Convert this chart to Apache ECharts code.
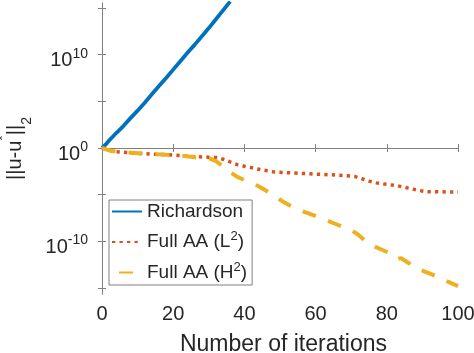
<!DOCTYPE html>
<html>
<head>
<meta charset="utf-8">
<script src="https://cdn.jsdelivr.net/npm/echarts@6/dist/echarts.min.js"></script>
<style>html,body{margin:0;padding:0;background:#fff;}#c{width:474px;height:353px;}</style>
</head>
<body>
<div id="c"></div>
<script>
// Iterations (x) and log10 of ||u-u*||_2 (y)
const richIters = [0, 1, 2, 3, 4, 6, 8, 10, 12, 14, 16, 18, 20, 22, 24, 26, 28, 30, 32, 34, 36];
const richLog10 = [0.0, 0.35, 0.8, 1.2, 1.6, 2.35, 3.2, 4.0, 4.85, 5.75, 6.65, 7.5, 8.4, 9.3, 10.2, 11.05, 11.95, 12.85, 13.8, 14.75, 15.7];

const l2Iters = [0, 2, 4, 8, 12, 17, 22, 26, 30, 32, 34, 36, 38, 40, 43, 45, 48, 52, 56, 60, 64, 68, 71, 73, 75, 77, 80, 83, 86, 89, 91, 95, 100];
const l2Log10 = [0, -0.25, -0.4, -0.52, -0.62, -0.7, -0.8, -0.93, -0.98, -1.02, -1.2, -1.5, -1.78, -1.96, -2.2, -2.35, -2.55, -2.65, -2.72, -2.8, -2.87, -2.95, -3.05, -3.3, -3.55, -3.74, -3.9, -4.05, -4.3, -4.55, -4.68, -4.7, -4.72];

const h2Iters = [0, 2, 4, 8, 12, 17, 22, 26, 30, 32, 34, 36, 38, 41, 44, 48, 51, 55, 58, 62, 66, 70, 72, 75, 78, 81, 82, 83, 84, 86, 89, 93, 97, 100];
const h2Log10 = [0, -0.25, -0.4, -0.5, -0.6, -0.7, -0.8, -1.0, -1.1, -1.4, -2.0, -2.6, -3.1, -3.6, -4.1, -5.0, -5.8, -6.6, -7.0, -7.6, -8.2, -8.8, -9.3, -10.3, -10.8, -11.3, -11.5, -11.9, -11.8, -12.3, -13.0, -13.6, -14.3, -14.8];

const seriesNames = ['Richardson', 'Full AA (L2)', 'Full AA (H2)'];
const legendLabels = {
  'Richardson': '{b|Richardson}',
  'Full AA (L2)': '{b|Full AA (L}{s|2}{b|)}',
  'Full AA (H2)': '{b|Full AA (H}{s|2}{b|)}'
};
const xTicks = [0, 20, 40, 60, 80, 100];
const yTickExps = [-15, -10, -5, 0, 5, 10, 15];
const yLabelExps = [-10, 0, 10];

const zip = (xs, ys) => xs.map((x, i) => [x, ys[i]]);
const txt = '#262626';
const axc = '#808080';
const yMin = -15.65, yMax = 15.54;

const chart = echarts.init(document.getElementById('c'), null, {renderer: 'canvas'});
chart.setOption({
  animation: false,
  backgroundColor: '#fff',
  grid: {left: 102, right: 16, top: 3, bottom: 59, containLabel: false, outerBoundsMode: 'none'},
  xAxis: [{
    type: 'value', min: 0, max: 100, interval: 20,
    name: 'Number of iterations', nameLocation: 'middle', nameGap: 39,
    nameTextStyle: {fontSize: 23, color: txt, fontFamily: 'Liberation Sans', padding: [0, 0, 0, 7]},
    axisLine: {lineStyle: {color: axc, width: 1}},
    axisTick: {inside: true, length: 4, lineStyle: {color: axc}},
    axisLabel: {fontSize: 20, color: txt, margin: 10, fontFamily: 'Liberation Sans'},
    splitLine: {show: false}
  }, {
    type: 'value', min: 0, max: 100, interval: 20, position: 'top',
    axisLine: {show: true, lineStyle: {color: axc, width: 1}},
    axisTick: {show: true, inside: true, length: 4, lineStyle: {color: axc}},
    axisLabel: {show: false}, splitLine: {show: false}
  }],
  yAxis: [{
    type: 'value', min: yMin, max: yMax,
    name: '{b|||u-u}{sup|*}{b|||}{sub|2}', nameLocation: 'middle', nameGap: 68, nameRotate: 90,
    nameTextStyle: {
      color: txt, fontFamily: 'Liberation Sans',
      rich: {
        b: {fontSize: 20, lineHeight: 38, color: txt, fontFamily: 'Liberation Sans'},
        sup: {fontSize: 14, lineHeight: 14, verticalAlign: 'top', color: txt, fontFamily: 'Liberation Sans'},
        sub: {fontSize: 14, lineHeight: 14, verticalAlign: 'bottom', color: txt, fontFamily: 'Liberation Sans'}
      }
    },
    axisLine: {show: true, lineStyle: {color: axc, width: 1}},
    axisTick: {show: true, inside: true, length: 4, lineStyle: {color: axc}, customValues: yTickExps},
    axisLabel: {
      customValues: yLabelExps, margin: 14, padding: [12, 0, 0, 0],
      formatter: v => '{b|10}{s|' + v + '}',
      rich: {
        b: {fontSize: 20, lineHeight: 28, color: txt, fontFamily: 'Liberation Sans'},
        s: {fontSize: 14, lineHeight: 14, verticalAlign: 'top', color: txt, fontFamily: 'Liberation Sans'}
      }
    },
    splitLine: {show: false}
  }, {
    type: 'value', min: yMin, max: yMax, position: 'right',
    axisLine: {show: true, lineStyle: {color: axc, width: 1}},
    axisTick: {show: true, inside: true, length: 4, lineStyle: {color: axc}, customValues: yTickExps},
    axisLabel: {show: false}, splitLine: {show: false}
  }],
  legend: {
    orient: 'vertical', left: 109, top: 200,
    data: [
      {name: seriesNames[0]},
      {name: seriesNames[1]},
      {name: seriesNames[2], lineStyle: {dashOffset: -7}}
    ],
    itemWidth: 30, itemHeight: 14, itemGap: 9,
    padding: [2, 5, 3, 2],
    borderColor: axc, borderWidth: 1, backgroundColor: '#fff',
    itemStyle: {opacity: 0},
    formatter: n => legendLabels[n],
    textStyle: {
      color: txt, fontFamily: 'Liberation Sans',
      rich: {
        b: {fontSize: 19, lineHeight: 24, color: txt, fontFamily: 'Liberation Sans'},
        s: {fontSize: 13, lineHeight: 12, verticalAlign: 'top', color: txt, fontFamily: 'Liberation Sans'}
      }
    }
  },
  series: [{
    name: seriesNames[0], type: 'line', symbol: 'none', data: zip(richIters, richLog10),
    lineStyle: {color: '#0072BD', width: 3.8}, itemStyle: {color: '#0072BD'}
  }, {
    name: seriesNames[1], type: 'line', symbol: 'none', data: zip(l2Iters, l2Log10),
    lineStyle: {color: '#D95319', width: 3.5, type: [3.3, 4.2], cap: 'butt'}, itemStyle: {color: '#D95319'}
  }, {
    name: seriesNames[2], type: 'line', symbol: 'none', data: zip(h2Iters, h2Log10),
    lineStyle: {color: '#EDB120', width: 4, type: [14, 13], cap: 'butt'}, itemStyle: {color: '#EDB120'}
  }]
});
</script>
</body>
</html>
